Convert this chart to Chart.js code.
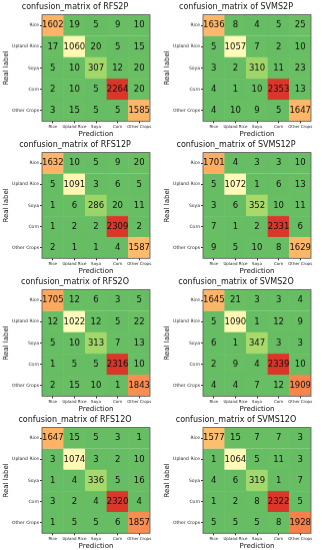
<!DOCTYPE html>
<html>
<head>
<meta charset="utf-8">
<script src="https://cdn.jsdelivr.net/npm/chart.js@4"></script>
<style>
  body { margin: 0; background: #fff; }
  #grid { display: grid; grid-template-columns: 161px 161px; grid-template-rows: repeat(4, 137.5px); width: 322px; height: 550px; }
  .cell { position: relative; width: 161px; height: 137.5px; }
</style>
</head>
<body>
<div id="grid"></div>
<script>
const crops = ["Rice", "Upland Rice", "Soya", "Corn", "Other Crops"];

// rows = real label, columns = prediction
const rfs2p = [[1602, 19, 5, 9, 10], [17, 1060, 20, 5, 15], [5, 10, 307, 12, 20], [2, 10, 5, 2264, 20], [3, 15, 5, 5, 1585]];
const svms2p = [[1636, 8, 4, 5, 25], [5, 1057, 7, 2, 10], [3, 2, 310, 11, 23], [4, 1, 10, 2353, 13], [4, 10, 9, 5, 1647]];
const rfs12p = [[1632, 10, 5, 9, 20], [5, 1091, 3, 6, 5], [1, 6, 286, 20, 11], [1, 2, 2, 2309, 2], [2, 1, 1, 4, 1587]];
const svms12p = [[1701, 4, 3, 3, 10], [5, 1072, 1, 6, 13], [3, 6, 352, 10, 11], [7, 1, 2, 2331, 6], [9, 5, 10, 8, 1629]];
const rfs2o = [[1705, 12, 6, 3, 5], [12, 1022, 12, 5, 22], [5, 10, 313, 7, 13], [1, 5, 5, 2316, 10], [2, 15, 10, 1, 1843]];
const svms2o = [[1645, 21, 3, 3, 4], [5, 1090, 1, 12, 9], [6, 1, 347, 3, 3], [2, 9, 4, 2339, 10], [4, 4, 7, 12, 1909]];
const rfs12o = [[1647, 15, 5, 3, 1], [3, 1074, 3, 2, 10], [1, 4, 336, 5, 16], [3, 2, 4, 2320, 4], [1, 5, 5, 6, 1857]];
const svms12o = [[1577, 15, 7, 7, 3], [1, 1064, 5, 11, 3], [4, 6, 319, 1, 7], [1, 2, 8, 2322, 5], [5, 5, 5, 8, 1928]];

const panels = [
  ["RFS2P", rfs2p], ["SVMS2P", svms2p],
  ["RFS12P", rfs12p], ["SVMS12P", svms12p],
  ["RFS2O", rfs2o], ["SVMS2O", svms2o],
  ["RFS12O", rfs12o], ["SVMS12O", svms12o]
];

// RdYlGn reversed
const stops = ["#006837", "#1a9850", "#66bd63", "#a6d96a", "#d9ef8b", "#ffffbf", "#fee08b", "#fdae61", "#f46d43", "#d73027", "#a50026"];

function hex(c) {
  return [parseInt(c.slice(1, 3), 16), parseInt(c.slice(3, 5), 16), parseInt(c.slice(5, 7), 16)];
}

function cellColor(v, max) {
  let t = 0.2 + 0.69 * v / max;
  let p = t * (stops.length - 1);
  let i = Math.min(Math.floor(p), stops.length - 2);
  let f = p - i;
  let a = hex(stops[i]), b = hex(stops[i + 1]);
  let rgb = a.map((x, k) => Math.round(x + (b[k] - x) * f));
  return `rgb(${rgb[0]},${rgb[1]},${rgb[2]})`;
}

const cellText = {
  id: "cellText",
  afterDatasetsDraw(chart) {
    const ctx = chart.ctx;
    const m = chart.options.plugins.cellText.matrix;
    ctx.save();
    ctx.font = "8.5px 'DejaVu Sans'";
    ctx.fillStyle = "#111";
    ctx.textAlign = "center";
    ctx.textBaseline = "middle";
    chart.data.datasets.forEach((ds, di) => {
      const meta = chart.getDatasetMeta(di);
      meta.data.forEach((bar, ci) => {
        ctx.fillText(m[ds.row][ci], bar.x, (bar.y + bar.base) / 2);
      });
    });
    const a = chart.chartArea;
    ctx.strokeStyle = "#555";
    ctx.lineWidth = 0.8;
    ctx.strokeRect(a.left, a.top, a.right - a.left, a.bottom - a.top);
    ctx.restore();
  }
};

const grid = document.getElementById("grid");

panels.forEach(([name, matrix]) => {
  const box = document.createElement("div");
  box.className = "cell";
  const cv = document.createElement("canvas");
  box.appendChild(cv);
  grid.appendChild(box);

  const max = Math.max(...matrix.flat());
  // bottom row first so that Rice ends up on top
  const datasets = [];
  for (let r = crops.length - 1; r >= 0; r--) {
    const colors = matrix[r].map(v => cellColor(v, max));
    datasets.push({
      row: r,
      data: crops.map(() => 1),
      backgroundColor: colors,
      borderColor: colors,
      borderWidth: 0.5,
      barPercentage: 1,
      categoryPercentage: 1
    });
  }

  new Chart(cv, {
    type: "bar",
    data: { labels: crops, datasets: datasets },
    options: {
      responsive: true,
      maintainAspectRatio: false,
      animation: false,
      layout: { padding: { left: 0, right: 11, top: 0, bottom: 0 } },
      plugins: {
        legend: { display: false },
        tooltip: { enabled: false },
        title: {
          display: true,
          text: "confusion_matrix of " + name,
          color: "#111",
          font: { family: "DejaVu Sans", size: 8, weight: "normal" },
          padding: { top: 2, bottom: 3 }
        },
        cellText: { matrix: matrix }
      },
      scales: {
        x: {
          stacked: true,
          grid: { display: true, drawOnChartArea: false, offset: false, tickLength: 2, color: "#333" },
          border: { display: false },
          ticks: { color: "#222", font: { family: "DejaVu Sans", size: 4 }, maxRotation: 0, autoSkip: false, padding: 1 },
          title: { display: true, text: "Prediction", color: "#111", font: { family: "DejaVu Sans", size: 7 }, padding: 0 }
        },
        y: {
          stacked: true,
          min: 0,
          max: 5,
          afterBuildTicks: axis => { axis.ticks = [0.5, 1.5, 2.5, 3.5, 4.5].map(v => ({ value: v })); },
          afterFit: axis => { axis.width = 42; },
          grid: { display: true, drawOnChartArea: false, tickLength: 2, color: "#333" },
          border: { display: false },
          ticks: {
            color: "#222",
            font: { family: "DejaVu Sans", size: 4.5 },
            padding: 1,
            callback: v => crops[crops.length - 1 - Math.floor(v)]
          },
          title: { display: true, text: "Real label", color: "#111", font: { family: "DejaVu Sans", size: 7 }, padding: 2 }
        }
      }
    },
    plugins: [cellText]
  });
});
</script>
</body>
</html>
